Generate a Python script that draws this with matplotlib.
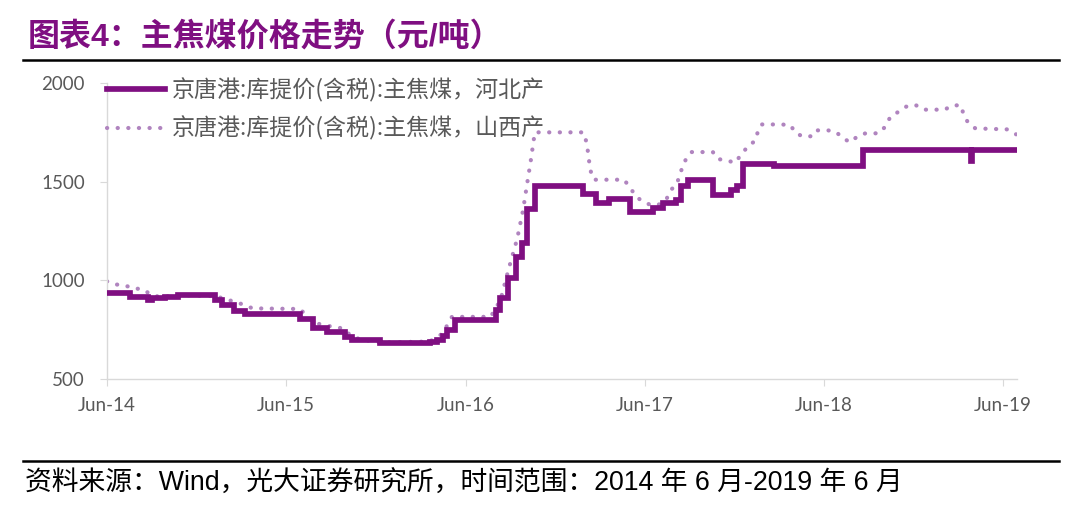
import matplotlib
matplotlib.use("Agg")
import matplotlib.pyplot as plt
import matplotlib.dates as mdates
from matplotlib.lines import Line2D
import pandas as pd

# 京唐港 库提价(含税) 主焦煤, 河北产 -- price changes (step series)
hebei_dates = ["2014-06-01", "2014-07-17", "2014-08-23", "2014-09-01", "2014-09-28",
               "2014-10-24", "2015-01-08", "2015-01-22", "2015-02-14", "2015-03-09",
               "2015-06-29", "2015-07-25", "2015-08-23", "2015-09-29", "2015-10-13",
               "2015-12-10", "2016-03-20", "2016-04-03", "2016-04-15", "2016-04-25",
               "2016-05-10", "2016-08-01", "2016-08-11", "2016-08-26", "2016-09-11",
               "2016-09-24", "2016-10-05", "2016-10-20", "2017-01-27", "2017-02-21",
               "2017-03-21", "2017-05-02", "2017-06-18", "2017-07-09", "2017-08-03",
               "2017-08-13", "2017-08-29", "2017-10-18", "2017-11-24", "2017-12-07",
               "2017-12-18", "2018-02-20", "2018-08-21", "2019-03-28", "2019-03-30",
               "2019-06-28"]
hebei_values = [935, 915, 900, 910, 915,
                925, 900, 875, 845, 830,
                805, 760, 740, 715, 700,
                680, 690, 700, 720, 750,
                800, 850, 910, 1010, 1120,
                1190, 1360, 1480, 1440, 1390,
                1410, 1345, 1365, 1390, 1405,
                1480, 1510, 1430, 1460, 1480,
                1590, 1580, 1660, 1605, 1660,
                1660]

# 京唐港 库提价(含税) 主焦煤, 山西产
shanxi_dates = ["2014-06-01", "2014-06-15", "2014-07-07", "2014-07-23", "2014-08-13",
                "2014-08-28", "2014-09-17", "2014-10-24", "2015-01-08", "2015-02-04",
                "2015-02-25", "2015-03-09", "2015-03-25", "2015-06-29", "2015-07-28",
                "2015-08-19", "2015-09-25", "2015-10-13", "2015-11-01", "2015-12-10",
                "2016-03-20", "2016-04-15", "2016-05-04", "2016-07-22", "2016-08-11",
                "2016-08-28", "2016-09-14", "2016-09-26", "2016-10-05", "2016-10-12",
                "2016-10-20", "2017-01-27", "2017-02-03", "2017-02-10", "2017-02-17",
                "2017-04-20", "2017-05-02", "2017-05-16", "2017-06-01", "2017-06-15",
                "2017-07-01", "2017-07-15", "2017-07-25", "2017-08-05", "2017-08-15",
                "2017-08-25", "2017-09-05", "2017-10-18", "2017-10-28", "2017-11-20",
                "2017-12-01", "2017-12-18", "2017-12-28", "2018-01-12", "2018-01-18",
                "2018-01-25", "2018-03-08", "2018-03-26", "2018-04-03", "2018-04-18",
                "2018-05-09", "2018-05-18", "2018-06-10", "2018-06-27", "2018-07-10",
                "2018-07-25", "2018-08-09", "2018-08-25", "2018-09-21", "2018-10-05",
                "2018-10-15", "2018-11-01", "2018-11-16", "2018-12-04", "2018-12-22",
                "2019-02-03", "2019-02-16", "2019-03-07", "2019-03-14", "2019-03-22",
                "2019-04-06", "2019-06-10", "2019-06-28"]
shanxi_values = [995, 980, 975, 960, 955,
                 930, 915, 925, 920, 900,
                 885, 873, 858, 855, 785,
                 772, 756, 715, 700, 685,
                 690, 730, 815, 815, 900,
                 1060, 1210, 1355, 1500, 1610,
                 1750, 1750, 1695, 1560, 1510,
                 1510, 1470, 1420, 1395, 1380,
                 1385, 1410, 1460, 1485, 1560,
                 1620, 1650, 1650, 1615, 1605,
                 1595, 1645, 1680, 1706, 1756,
                 1790, 1790, 1785, 1750, 1730,
                 1730, 1760, 1760, 1750, 1720,
                 1700, 1730, 1745, 1745, 1780,
                 1830, 1855, 1880, 1890, 1865,
                 1865, 1885, 1888, 1835, 1800,
                 1770, 1765, 1740]

tick_dates = ["2014-06-01", "2015-06-01", "2016-06-01", "2017-06-01", "2018-06-01", "2019-06-01"]
y_ticks = [500, 1000, 1500, 2000]

label_hebei = "京唐港:库提价(含税):主焦煤，河北产"
label_shanxi = "京唐港:库提价(含税):主焦煤，山西产"

purple = "#7f0f81"
light_purple = "#b084bf"
grey = "#595959"
cjk = ["Noto Sans CJK SC", "DejaVu Sans"]
latin_cjk = ["Liberation Sans", "Noto Sans CJK SC"]

fig = plt.figure(figsize=(10.8, 5.13), dpi=100)
ax = fig.add_axes([0.0991, 0.2612, 0.8426, 0.5770])

ax.plot(pd.to_datetime(shanxi_dates), shanxi_values, color=light_purple, lw=3.0,
        linestyle=(0, (0.05, 2.5)), dash_capstyle="round", label=label_shanxi, zorder=2)
ax.plot(pd.to_datetime(hebei_dates), hebei_values, color=purple, lw=4.1,
        drawstyle="steps-post", solid_joinstyle="miter", label=label_hebei, zorder=3)

ax.set_ylim(500, 2000)
ax.set_yticks(y_ticks)
ax.set_xlim(pd.Timestamp("2014-06-01"), pd.Timestamp("2019-06-30"))
ax.set_xticks(pd.to_datetime(tick_dates))
ax.xaxis.set_major_formatter(mdates.DateFormatter("%b-%y"))

for side in ["top", "right"]:
    ax.spines[side].set_visible(False)
for side in ["left", "bottom"]:
    ax.spines[side].set_color("#d9d9d9")
    ax.spines[side].set_linewidth(1.0)
ax.tick_params(axis="y", colors="#d9d9d9", labelcolor=grey, length=5, pad=11, labelsize=13.5)
ax.tick_params(axis="x", colors="#d9d9d9", labelcolor=grey, length=5, pad=8, labelsize=13.5)
for lab in ax.get_xticklabels() + ax.get_yticklabels():
    lab.set_family("Lato")

handles, labels = ax.get_legend_handles_labels()
leg = ax.legend(handles[::-1], labels[::-1], loc="upper left", bbox_to_anchor=(0.0, 1.017),
                frameon=False, borderpad=0, borderaxespad=0, handlelength=2.5,
                handletextpad=0.3, labelspacing=0.6,
                prop={"family": cjk, "size": 16.6})
for t in leg.get_texts():
    t.set_color(grey)

fig.text(0.026, 0.928, "图表4：主焦煤价格走势（元/吨）", color=purple, fontsize=23,
         fontweight="bold", family=latin_cjk, va="center", ha="left")
fig.add_artist(Line2D([0.021, 0.981], [0.883, 0.883], transform=fig.transFigure,
                      color="black", lw=1.8))
fig.add_artist(Line2D([0.021, 0.981], [0.1014, 0.1014], transform=fig.transFigure,
                      color="black", lw=1.8))
fig.text(0.023, 0.0565, "资料来源：Wind，光大证券研究所，时间范围：2014 年 6 月-2019 年 6 月",
         color="black", fontsize=19.3, family=latin_cjk, va="center", ha="left")

fig.savefig("out.png", dpi=100)
